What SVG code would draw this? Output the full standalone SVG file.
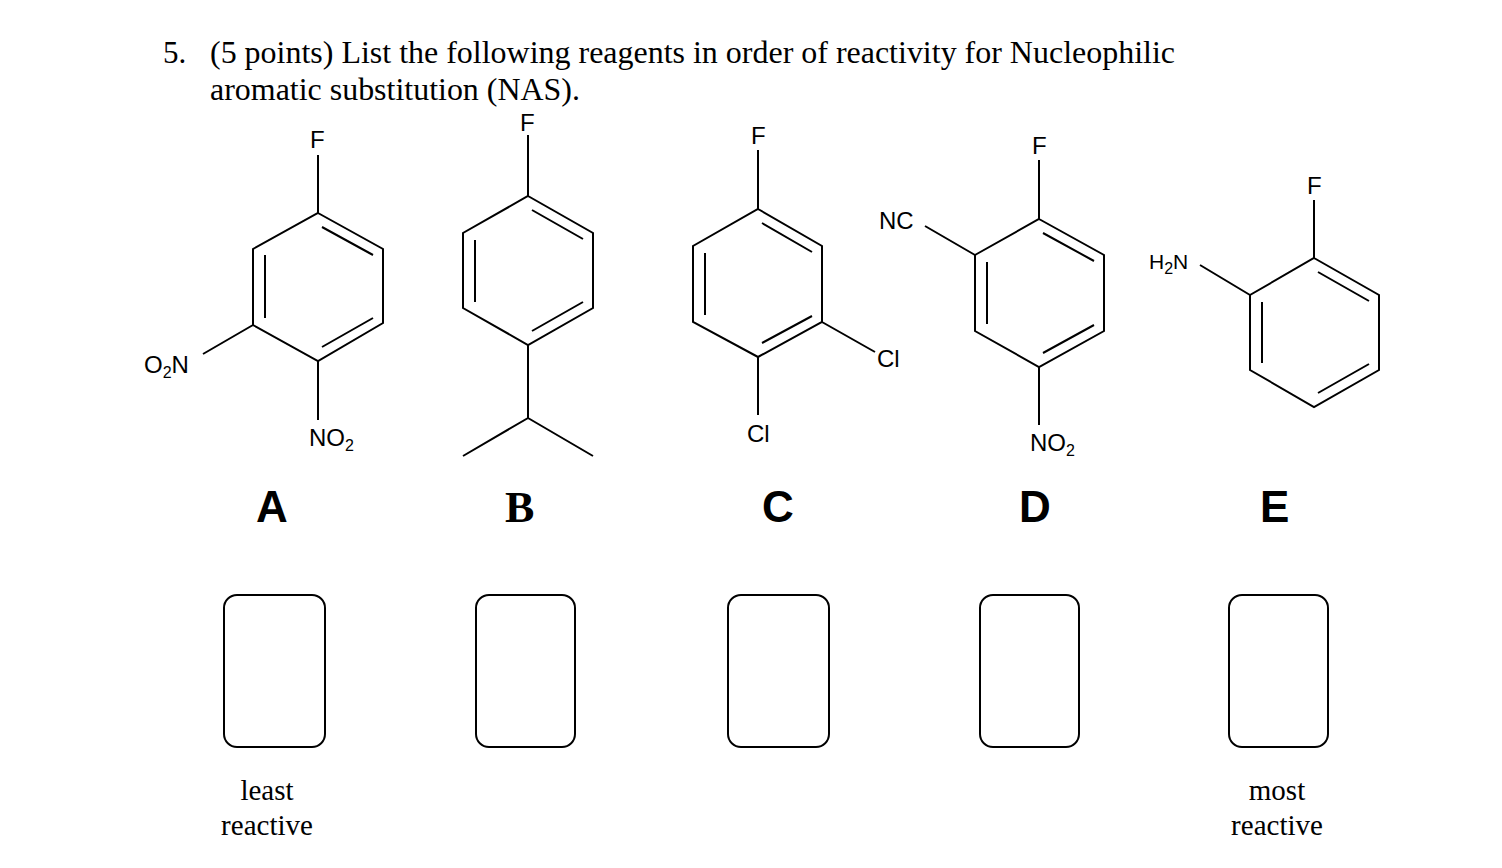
<svg xmlns="http://www.w3.org/2000/svg" width="1502" height="868" viewBox="0 0 1502 868">
<style>
.b{stroke:#000;stroke-width:2;fill:none}
.s{font-family:"Liberation Sans",Arial,sans-serif;font-size:24px}
.sub{font-size:16px}
.t{font-family:"Liberation Serif","Times New Roman",serif;font-size:31px}
.r{font-family:"Liberation Serif","Times New Roman",serif;font-size:29px}
.L{font-family:"Liberation Sans",Arial,sans-serif;font-size:44px;font-weight:bold}
.box{fill:#fff;stroke:#000;stroke-width:2}
</style>
<rect width="1502" height="868" fill="#fff"/>
<text class="t" x="163" y="63">5.</text>
<text class="t" x="210" y="63" textLength="965" lengthAdjust="spacingAndGlyphs">(5 points) List the following reagents in order of reactivity for Nucleophilic</text>
<text class="t" x="210" y="100" textLength="370" lengthAdjust="spacingAndGlyphs">aromatic substitution (NAS).</text>
<g id="A">
<path class="b" d="M318,213 L383,249 L383,323 L318,361 L253,325 L253,249 Z M318,213 L318,155 M253,325 L203,354 M318,361 L318,420 M322,227 L373,255 M265,255 L265,318 M322,347 L373,318"/>
<text class="s" x="310" y="148">F</text>
<text class="s" x="144" y="373">O<tspan class="sub" dy="5">2</tspan><tspan dy="-5">N</tspan></text>
<text class="s" x="309" y="446">NO<tspan class="sub" dy="5">2</tspan></text>
<text class="L" x="256" y="522">A</text>
</g>
<g id="B">
<path class="b" d="M528,196 L593,233 L593,308 L528,345 L463,308 L463,233 Z M528,196 L528,135 M528,345 L528,418 L463,456 M528,418 L593,456 M532,210 L583,239 M475,240 L475,302 M532,331 L583,302"/>
<text class="s" x="520" y="131">F</text>
<text x="505" y="522" style="font-family:'Liberation Serif',serif;font-size:44px;font-weight:bold">B</text>
</g>
<g id="C">
<path class="b" d="M758,209 L822,246 L822,322 L758,357 L693,322 L693,246 Z M758,209 L758,150 M822,322 L875,352 M758,357 L758,415 M762,223 L812,252 M705,253 L705,315 M762,343 L812,316"/>
<text class="s" x="751" y="144">F</text>
<text class="s" x="877" y="367">Cl</text>
<text class="s" x="747" y="442">Cl</text>
<text class="L" x="762" y="522">C</text>
</g>
<g id="D">
<path class="b" d="M1039,219 L1104,255 L1104,331 L1039,367 L975,331 L975,255 Z M1039,219 L1039,160 M975,255 L925,226 M1039,367 L1039,425 M1043,233 L1094,261 M987,262 L987,324 M1043,353 L1094,325"/>
<text class="s" x="1032" y="154">F</text>
<text class="s" x="879" y="229">NC</text>
<text class="s" x="1030" y="451">NO<tspan class="sub" dy="5">2</tspan></text>
<text class="L" x="1019" y="522">D</text>
</g>
<g id="E">
<path class="b" d="M1314,258 L1379,295 L1379,370 L1314,407 L1250,370 L1250,295 Z M1314,258 L1314,200 M1250,295 L1200,265 M1318,272 L1369,301 M1262,302 L1262,363 M1318,393 L1369,364"/>
<text class="s" x="1307" y="194">F</text>
<text class="s" x="1149" y="269" style="font-size:21px">H<tspan class="sub" dy="5">2</tspan><tspan dy="-5">N</tspan></text>
<text class="L" x="1260" y="522">E</text>
</g>
<g id="boxes">
<rect class="box" x="224" y="595" width="101" height="152" rx="13"/>
<rect class="box" x="476" y="595" width="99" height="152" rx="13"/>
<rect class="box" x="728" y="595" width="101" height="152" rx="13"/>
<rect class="box" x="980" y="595" width="99" height="152" rx="13"/>
<rect class="box" x="1229" y="595" width="99" height="152" rx="13"/>
</g>
<text class="r" x="267" y="800" text-anchor="middle">least</text>
<text class="r" x="267" y="835" text-anchor="middle">reactive</text>
<text class="r" x="1277" y="800" text-anchor="middle">most</text>
<text class="r" x="1277" y="835" text-anchor="middle">reactive</text>
</svg>
